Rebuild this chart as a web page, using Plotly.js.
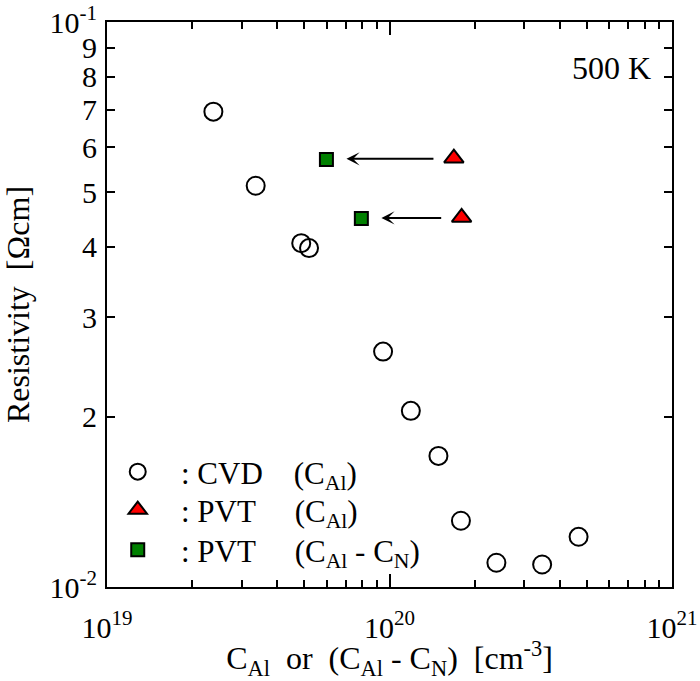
<!DOCTYPE html>
<html>
<head>
<meta charset="utf-8">
<script src="https://cdn.plot.ly/plotly-3.0.1.min.js"></script>
<style>html,body{margin:0;padding:0;background:#fff;}#chart{width:700px;height:681px;}</style>
</head>
<body>
<div id="chart"></div>
<script>
// ---- data ----
var cvdX = [2.38e19, 3.36e19, 4.87e19, 5.19e19, 9.49e19, 1.19e20, 1.49e20, 1.79e20, 2.39e20, 3.47e20, 4.67e20];
var cvdY = [0.0694, 0.0513, 0.0406, 0.0398, 0.0261, 0.0205, 0.01706, 0.0131, 0.01104, 0.01096, 0.01227];
var pvtX = [1.69e20, 1.80e20];
var pvtY = [0.0574, 0.0451];
var pvtNetX = [5.98e19, 7.95e19];
var pvtNetY = [0.0571, 0.0449];

var NB = '\u00A0';
var seriesNames = [
  NB + NB + NB + ': CVD' + NB + NB + NB + NB + '(C<sub>Al</sub>)',
  NB + NB + NB + ': PVT' + NB + NB + NB + NB + NB + '(C<sub>Al</sub>)',
  NB + NB + NB + ': PVT' + NB + NB + NB + NB + NB + '(C<sub>Al</sub> - C<sub>N</sub>)'
];

var xMajorVals = [1e19, 1e20, 1e21];
var xMajorText = ['10<sup>19</sup>', '10<sup>20</sup>', '10<sup>21</sup>'];
var xMinorVals = [2e19,3e19,4e19,5e19,6e19,7e19,8e19,9e19,2e20,3e20,4e20,5e20,6e20,7e20,8e20,9e20];
var yTickVals = [0.1, 0.09, 0.08, 0.07, 0.06, 0.05, 0.04, 0.03, 0.02, 0.01];
var yTickText = ['10<sup>-1</sup>', '9', '8', '7', '6', '5', '4', '3', '2', '10<sup>-2</sup>'];

var tempLabel = '500 K';
var xTitle = NB + NB + NB + 'C<sub>Al</sub>' + NB + NB + 'or' + NB + NB + '(C<sub>Al</sub> - C<sub>N</sub>)' + NB + NB + '[cm<sup>-3</sup>]';
var yTitle = 'Resistivity' + NB + NB + '[\u03A9cm]';

var FONT = '"Liberation Serif", "Times New Roman", serif';

var traces = [
  {x: cvdX, y: cvdY, type: 'scatter', mode: 'markers', name: seriesNames[0], legend: 'legend',
   marker: {symbol: 'circle-open', size: 18, color: '#000', line: {width: 2, color: '#000'}}},
  {x: pvtX, y: pvtY, type: 'scatter', mode: 'markers', name: seriesNames[1], legend: 'legend2',
   marker: {symbol: 'triangle-up', size: 17, color: '#ff0000', line: {width: 2, color: '#000'}}},
  {x: pvtNetX, y: pvtNetY, type: 'scatter', mode: 'markers', name: seriesNames[2], legend: 'legend3',
   marker: {symbol: 'square', size: 13, color: '#008000', line: {width: 2, color: '#000'}}}
];

// arrows from PVT(C_Al) to PVT(C_Al - C_N)
var annotations = [];
for (var i = 0; i < pvtX.length; i++) {
  var yy = (Math.log10(pvtY[i]) + Math.log10(pvtNetY[i])) / 2;
  annotations.push({
    x: Math.log10(pvtNetX[i]) + 0.071, y: yy,
    ax: Math.log10(pvtX[i]) - 0.067, ay: yy,
    xref: 'x', yref: 'y', axref: 'x', ayref: 'y',
    showarrow: true, arrowhead: 3, arrowsize: 1.1, arrowwidth: 2, arrowcolor: '#000',
    text: ''
  });
}
annotations.push({
  text: tempLabel, xref: 'paper', yref: 'paper', x: 0.966, y: 0.919,
  xanchor: 'right', yanchor: 'middle', showarrow: false,
  font: {family: FONT, size: 32, color: '#000'}
});

function legendAt(yPaper) {
  return {x: 0.019, y: yPaper, xanchor: 'left', yanchor: 'middle',
          bgcolor: 'rgba(0,0,0,0)', borderwidth: 0,
          font: {family: FONT, size: 31, color: '#000'}};
}

var layout = {
  width: 700, height: 681,
  margin: {l: 107, r: 28, t: 22, b: 94},
  paper_bgcolor: '#fff', plot_bgcolor: '#fff',
  font: {family: FONT, size: 30, color: '#000'},
  showlegend: true,
  legend: legendAt(0.2035),
  legend2: legendAt(0.1363),
  legend3: legendAt(0.0655),
  xaxis: {
    type: 'log', range: [19, 21],
    showline: true, linewidth: 2, linecolor: '#000', mirror: 'allticks',
    showgrid: false, zeroline: false,
    ticks: 'inside', ticklen: 13, tickwidth: 2, tickcolor: '#000',
    tickmode: 'array', tickvals: xMajorVals, ticktext: xMajorText,
    ticklabelstandoff: 13,
    minor: {tickmode: 'array', tickvals: xMinorVals, ticks: 'inside', ticklen: 7, tickwidth: 2, tickcolor: '#000', showgrid: false},
    tickfont: {family: FONT, size: 30, color: '#000'},
    title: {text: xTitle, font: {family: FONT, size: 32, color: '#000'}, standoff: 3}
  },
  yaxis: {
    type: 'log', range: [-2, -1],
    showline: true, linewidth: 2, linecolor: '#000', mirror: 'allticks',
    showgrid: false, zeroline: false,
    ticks: 'inside', ticklen: 8, tickwidth: 2, tickcolor: '#000',
    tickmode: 'array', tickvals: yTickVals, ticktext: yTickText,
    ticklabelstandoff: 2,
    tickfont: {family: FONT, size: 30, color: '#000'},
    title: {text: yTitle, font: {family: FONT, size: 32, color: '#000'}, standoff: 11}
  },
  annotations: annotations
};

Plotly.newPlot('chart', traces, layout, {displayModeBar: false, staticPlot: true});
</script>
</body>
</html>
